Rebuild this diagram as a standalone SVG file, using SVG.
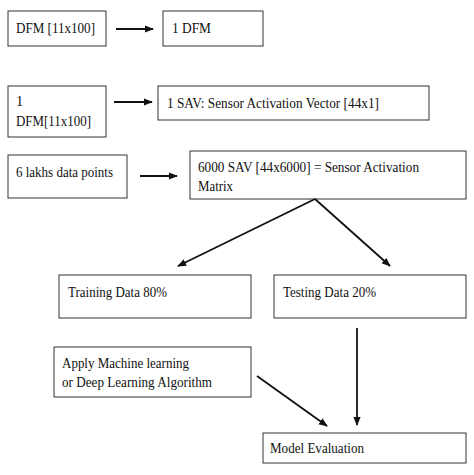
<svg xmlns="http://www.w3.org/2000/svg" width="474" height="475" viewBox="0 0 474 475">
<style>
.box{fill:#fff;stroke:#333;stroke-width:1}
.t{font-family:"Liberation Serif","Times New Roman",serif;font-size:14.5px;fill:#111}
.c{stroke:#111;stroke-width:1.8;fill:none}
</style>
<defs>
<marker id="ah" viewBox="0 0 10 10" refX="9" refY="5" markerWidth="5" markerHeight="5" orient="auto" markerUnits="strokeWidth">
<path d="M0,1 L10,5 L0,9 z" fill="#111"/>
</marker>
</defs>
<rect width="474" height="475" fill="#fff"/>
<g id="n1"><rect class="box" x="8" y="11" width="98" height="35"/><text class="t" x="16" y="33" textLength="79" lengthAdjust="spacingAndGlyphs">DFM [11x100]</text></g>
<g id="n2"><rect class="box" x="163" y="11" width="100" height="35"/><text class="t" x="172" y="33" textLength="39" lengthAdjust="spacingAndGlyphs">1 DFM</text></g>
<g id="n3"><rect class="box" x="8" y="86" width="98" height="51"/><text class="t" x="16" y="106">1</text><text class="t" x="16" y="126" textLength="75" lengthAdjust="spacingAndGlyphs">DFM[11x100]</text></g>
<g id="n4"><rect class="box" x="158" y="86" width="271" height="34"/><text class="t" x="167" y="108" textLength="212" lengthAdjust="spacingAndGlyphs">1 SAV: Sensor Activation Vector [44x1]</text></g>
<g id="n5"><rect class="box" x="8" y="155" width="119" height="43"/><text class="t" x="16" y="177" textLength="97" lengthAdjust="spacingAndGlyphs">6 lakhs data points</text></g>
<g id="n6"><rect class="box" x="190" y="151" width="276" height="48"/><text class="t" x="198" y="172" textLength="221" lengthAdjust="spacingAndGlyphs">6000 SAV [44x6000] = Sensor Activation</text><text class="t" x="198" y="191" textLength="35" lengthAdjust="spacingAndGlyphs">Matrix</text></g>
<g id="n7"><rect class="box" x="59" y="275" width="192" height="43"/><text class="t" x="68" y="297" textLength="99" lengthAdjust="spacingAndGlyphs">Training Data 80%</text></g>
<g id="n8"><rect class="box" x="274" y="275" width="192" height="43"/><text class="t" x="283" y="297" textLength="93" lengthAdjust="spacingAndGlyphs">Testing Data 20%</text></g>
<g id="n9"><rect class="box" x="54" y="347" width="197" height="50"/><text class="t" x="62" y="368" textLength="127" lengthAdjust="spacingAndGlyphs">Apply Machine learning</text><text class="t" x="62" y="387" textLength="150" lengthAdjust="spacingAndGlyphs">or Deep Learning Algorithm</text></g>
<g id="n10"><rect class="box" x="263" y="433" width="203" height="30"/><text class="t" x="270" y="453" textLength="94" lengthAdjust="spacingAndGlyphs">Model Evaluation</text></g>
<g id="connectors">
<line class="c" x1="116" y1="29" x2="153" y2="29" marker-end="url(#ah)"/>
<line class="c" x1="114" y1="102" x2="152" y2="102" marker-end="url(#ah)"/>
<line class="c" x1="140" y1="176" x2="177" y2="176" marker-end="url(#ah)"/>
<line class="c" x1="315" y1="199" x2="178" y2="266" marker-end="url(#ah)"/>
<line class="c" x1="315" y1="199" x2="390" y2="266" marker-end="url(#ah)"/>
<line class="c" x1="357" y1="328" x2="357" y2="425" marker-end="url(#ah)"/>
<line class="c" x1="257" y1="376" x2="327" y2="426" marker-end="url(#ah)"/>
</g>
</svg>
